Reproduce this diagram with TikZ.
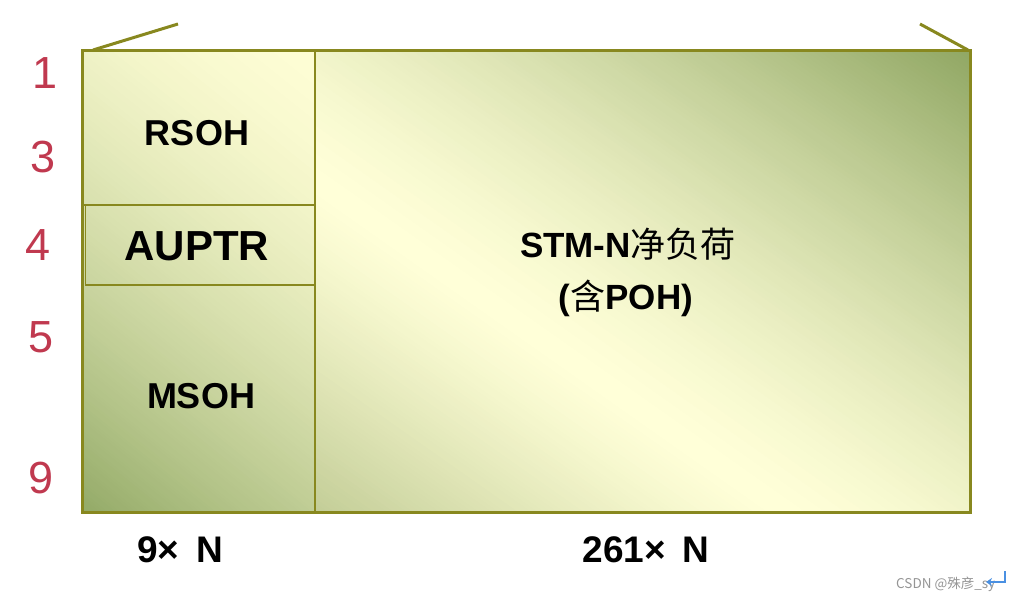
\documentclass[tikz,border=0pt]{standalone}
\usepackage{fontspec}
\setmainfont{Liberation Sans}
\newfontfamily\cjk{Noto Sans CJK SC}
\usetikzlibrary{arrows.meta}
\definecolor{frameline}{HTML}{88881F}
\definecolor{darkg}{HTML}{8FA662}
\definecolor{paley}{HTML}{FFFFD8}
\definecolor{blgreen}{HTML}{C3CD97}
\definecolor{leftpale}{HTML}{FDFDD4}
\definecolor{leftdark}{HTML}{93AA67}
\definecolor{numred}{HTML}{C0394F}
\definecolor{wmgray}{HTML}{959595}
\definecolor{wmblue}{HTML}{4A90E2}
\tikzset{
  frame/.style={draw=frameline, line width=1.8pt},
  bigframe/.style={draw=frameline, line width=3pt},
  celltext/.style={inner sep=0pt, font=\bfseries\fontsize{36}{36}\selectfont},
  rownum/.style={inner sep=0pt, text=numred, font=\fontsize{45}{45}\selectfont},
  widthtext/.style={inner sep=0pt, anchor=base, font=\bfseries\fontsize{37}{37}\selectfont},
}
\begin{document}
\begin{tikzpicture}[x=1pt,y=-1pt]
\useasboundingbox (0,0) rectangle (1020,602);
% left column gradient: stripes x - 1.25 y = u
\begin{scope}
\clip (82,51) rectangle (315,512);
\foreach \u in {-564,-560,...,256}{
  \pgfmathsetmacro\f{max(0.001,min(1,(251-\u)/809))}
  \pgfmathtruncatemacro\p{min(100,100*\f^1.6)}
  \fill[leftdark!\p!leftpale] (\u+50,40) -- (\u+55,40) -- (\u+655,520) -- (\u+650,520) -- cycle;
}
\end{scope}
% payload gradient (stripes parallel to the box diagonal)
\begin{scope}[shift={(315,51)}, x=655pt, y=-461pt]
\clip (0,0) rectangle (1,1);
\foreach \i in {0,...,200}{
  \pgfmathsetmacro\v{-1+\i/100}
  \ifdim \v pt<-0.3pt
    \pgfmathsetmacro\f{max(0.001,(-0.3-\v)/0.7)}
    \pgfmathtruncatemacro\p{min(100,100*\f^1.2)}
    \fill[blgreen!\p!paley] (\v-0.1,-0.1) -- (\v-0.087,-0.1) -- (\v+1.113,1.1) -- (\v+1.1,1.1) -- cycle;
  \else
    \pgfmathsetmacro\f{max(0.001,(\v+0.3)/1.3)}
    \pgfmathtruncatemacro\p{min(100,100*\f^1.4)}
    \fill[darkg!\p!paley] (\v-0.1,-0.1) -- (\v-0.087,-0.1) -- (\v+1.113,1.1) -- (\v+1.1,1.1) -- cycle;
  \fi
}
\end{scope}
% frame
\coordinate (tl) at (82,51);
\coordinate (br) at (970,512);
\coordinate (divtop) at (315,51);
\coordinate (divbot) at (315,512);
\draw[frame] (82,205) -- (315,205);
\draw[frame] (85.5,205) rectangle (315,285);
\draw[frame] (divtop) -- (divbot);
\draw[bigframe] (tl) rectangle (br);
% slanted top lines
\coordinate (la) at (93,50);
\coordinate (lb) at (178,24);
\coordinate (ra) at (920,24);
\coordinate (rb) at (968,50);
\draw[bigframe] (la) -- (lb);
\draw[bigframe] (ra) -- (rb);
% cell labels
\node[celltext] (rsoh) at (197,133) {RSOH};
\node[celltext, font=\bfseries\fontsize{42}{42}\selectfont] (auptr) at (197,246) {AUPTR};
\node[celltext] (msoh) at (201,396) {MSOH};
\node[celltext, anchor=base, font=\bfseries\fontsize{35}{35}\selectfont] (stm) at (628,257) {STM-N{\cjk\mdseries 净负荷}};
\node[celltext, anchor=base, font=\bfseries\fontsize{35}{35}\selectfont] (poh) at (626,309) {({\cjk\mdseries 含}POH)};
% row numbers
\node[rownum] (n1) at (45,73) {1};
\node[rownum] (n3) at (43,157) {3};
\node[rownum] (n4) at (38,245) {4};
\node[rownum] (n5) at (41,337) {5};
\node[rownum] (n9) at (41,478) {9};
% widths
\node[widthtext] (w9) at (180,562) {9×\hspace{0.45em}N};
\node[widthtext] (w261) at (646,562) {261×\hspace{0.45em}N};
% watermark
\node[inner sep=0pt, anchor=base west, text=wmgray, font=\cjk\fontsize{13.5}{13.5}\selectfont] (wm) at (896,588) {CSDN @殊彦\_sy};
\coordinate (ia) at (1005,571);
\coordinate (ib) at (1005,582);
\coordinate (ic) at (986,582);
\draw[wmblue, line width=2.2pt, -{Stealth[length=6pt,width=8pt]}] (ia) -- (ib) -- (ic);
\end{tikzpicture}
\end{document}
